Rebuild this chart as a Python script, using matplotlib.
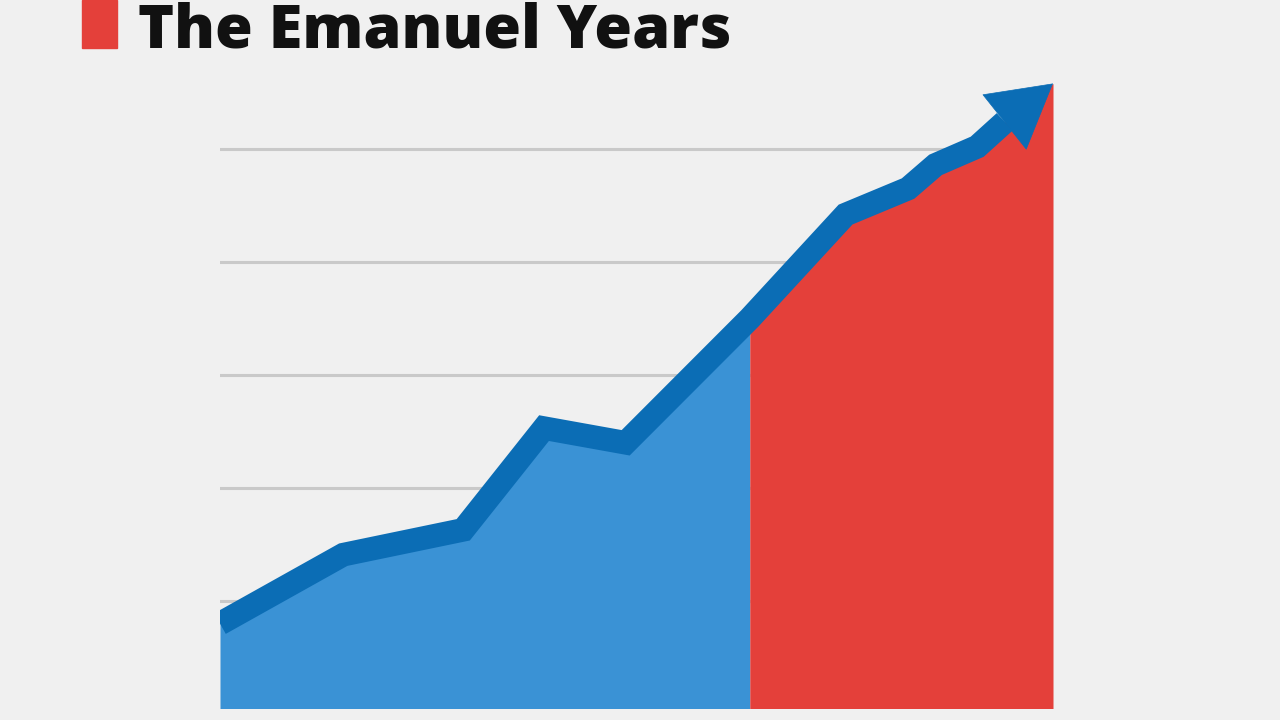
import numpy as np
import matplotlib.pyplot as plt
from matplotlib.patches import Rectangle

# data (index values, stylised)
x_pos = [0.0, 1.48, 2.92, 3.89, 4.87, 6.36, 7.51, 8.26, 8.59, 9.09, 9.42, 10.0]
value = [0.80, 1.41, 1.63, 2.53, 2.40, 3.50, 4.42, 4.65, 4.86, 5.02, 5.24, 5.58]
split = 6.36          # where the red era starts
grid_vals = [1, 2, 3, 4, 5]
title = "The Emanuel Years"

bg = "#f0f0f0"
line_col = "#0b6db5"
blue_fill = "#3a92d5"
red_fill = "#e4403a"

plt.rcParams['font.family'] = ['Open Sans', 'DejaVu Sans']

fig = plt.figure(figsize=(12.8, 7.2), dpi=100, facecolor=bg)
ax = fig.add_axes([220/1280, 12/720, 833/1280, 633/720])
ax.set_facecolor(bg)
ax.set_xlim(0, 10)
ax.set_ylim(0.053, 5.655)
ax.axis('off')

# gridlines
for g in grid_vals:
    ax.axhline(g, color="#c9c9c9", lw=2.2, zorder=1)

x = np.array(x_pos)
y = np.array(value)
ys = np.interp(split, x, y)

# blue part
xb = np.append(x[x < split], split)
yb = np.append(y[x < split], ys)
ax.fill_between(xb, 0, yb, color=blue_fill, lw=0, zorder=2)
# red part
xr = np.insert(x[x > split], 0, split)
yr = np.insert(y[x > split], 0, ys)
ax.fill_between(xr, 0, yr, color=red_fill, lw=0, zorder=2)

# trend line (up to arrow base) and arrow head
ax.plot(x[:-1], y[:-1], color=line_col, lw=17, solid_joinstyle='miter',
        solid_capstyle='butt', zorder=3)
ax.annotate('', xy=(x[-1], y[-1]), xytext=(x[-2], y[-2]),
            arrowprops=dict(arrowstyle='-|>,head_length=44,head_width=25',
                            color=line_col, lw=0.5, shrinkA=0, shrinkB=0,
                            mutation_scale=1),
            zorder=4)

# title with red marker
fig.patches.append(Rectangle((82/1280, 1 - 48/720), 35/1280, 48/720,
                             transform=fig.transFigure, color=red_fill))
fig.text(138/1280, 1 - 48/720, title, fontsize=44, fontweight='heavy',
         color="#111111", va='baseline', ha='left')

fig.savefig("out.png", dpi=100, facecolor=bg)
